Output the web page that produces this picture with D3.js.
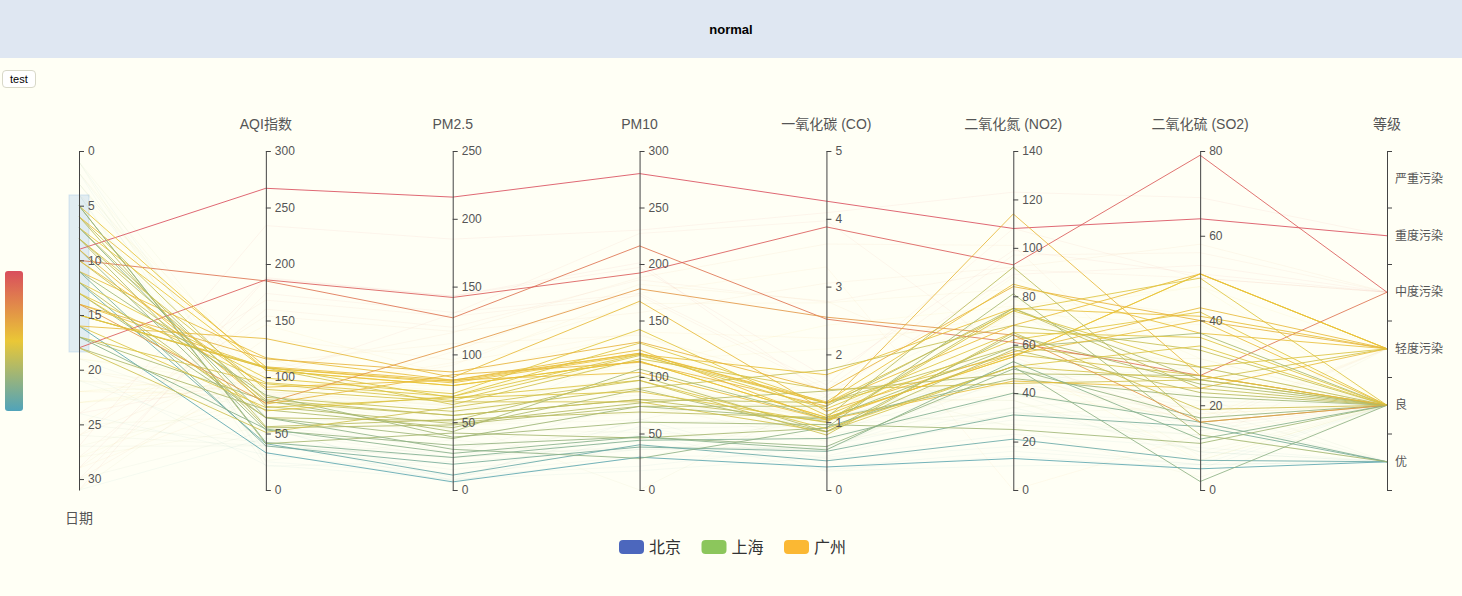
<!DOCTYPE html>
<html>
<head>
<meta charset="utf-8">
<script src="https://cdn.jsdelivr.net/npm/d3@7"></script>
<style>
  body { margin: 0; background: #fffff5; font-family: "Liberation Sans", "Noto Sans CJK SC", sans-serif; }
  #banner { height: 58px; background: #dfe7f2; text-align: center; line-height: 60px; font-weight: bold; font-size: 13px; color: #000; }
  #test { position: absolute; left: 2px; top: 70px; height: 18px; padding: 0 7px; font-size: 11px; background: #fff; border: 1px solid #d8d8c8; border-radius: 4px; font-family: inherit; }
  #chart { position: absolute; left: 0; top: 0; }
</style>
</head>
<body>
<div id="banner">normal</div>
<button id="test">test</button>
<svg id="chart" width="1462" height="596"></svg>
<script>
// [日期, AQI, PM2.5, PM10, CO, NO2, SO2, 等级]
const dataBJ = [
  [1,55,9,56,0.46,18,6,"良"],[2,25,11,21,0.65,34,9,"优"],[3,56,7,63,0.3,14,5,"良"],
  [4,33,7,29,0.33,16,6,"优"],[5,42,24,44,0.76,40,16,"优"],[6,82,58,90,1.77,68,33,"良"],
  [7,74,49,77,1.46,48,27,"良"],[8,78,55,80,1.29,59,29,"良"],[9,267,216,280,4.26,108,64,"重度污染"],
  [10,185,127,216,2.52,61,27,"中度污染"],[11,39,19,38,0.57,31,15,"优"],[12,41,11,40,0.43,21,7,"优"],
  [13,64,38,74,1.04,46,22,"良"],[14,108,79,120,1.7,75,41,"轻度污染"],[15,108,63,116,1.48,44,26,"轻度污染"],
  [16,33,6,29,0.34,13,5,"优"],[17,94,66,119,1.28,56,27,"良"],[18,186,142,192,3.88,93,79,"中度污染"],
  [19,57,31,54,0.96,32,14,"良"],[20,22,8,17,0.48,23,10,"优"],[21,39,15,36,0.61,29,13,"优"],
  [22,94,69,114,2.08,73,39,"良"],[23,99,73,110,2.43,76,48,"良"],[24,31,12,30,0.5,32,16,"优"],
  [25,42,27,43,1,53,22,"优"],[26,154,117,157,3.05,92,58,"中度污染"],[27,234,185,230,4.09,123,69,"重度污染"],
  [28,160,120,186,2.77,91,50,"中度污染"],[29,134,96,165,2.76,83,41,"轻度污染"],[30,52,24,60,1.03,50,21,"良"],
  [31,46,5,49,0.28,10,6,"优"]
];
const dataSH = [
  [1,91,45,125,0.82,34,23,"良"],[2,65,27,78,0.86,45,29,"良"],[3,83,60,84,1.09,73,27,"良"],
  [4,109,81,121,1.28,68,51,"轻度污染"],[5,106,77,114,1.07,55,51,"轻度污染"],[6,109,81,121,1.28,68,51,"轻度污染"],
  [7,106,77,114,1.07,55,51,"轻度污染"],[8,89,65,78,0.86,51,26,"良"],[9,53,33,47,0.64,50,17,"良"],
  [10,80,55,80,1.01,75,24,"良"],[11,117,81,124,1.03,45,24,"轻度污染"],[12,99,71,142,1.1,62,42,"良"],
  [13,95,69,130,1.28,74,50,"良"],[14,116,87,131,1.47,84,40,"轻度污染"],[15,108,80,121,1.3,85,37,"轻度污染"],
  [16,134,83,167,1.16,57,43,"轻度污染"],[17,79,43,107,1.05,59,37,"良"],[18,71,46,89,0.86,64,25,"良"],
  [19,97,71,113,1.17,88,31,"良"],[20,84,57,91,0.85,55,31,"良"],[21,87,63,101,0.9,56,41,"良"],
  [22,104,77,119,1.09,73,48,"轻度污染"],[23,87,62,100,1,72,28,"良"],[24,168,128,172,1.49,97,56,"中度污染"],
  [25,65,45,51,0.74,39,17,"良"],[26,39,24,38,0.61,47,17,"优"],[27,39,24,39,0.59,50,19,"优"],
  [28,93,68,96,1.05,79,29,"良"],[29,188,143,197,1.66,99,51,"中度污染"],[30,174,131,174,1.55,108,50,"中度污染"],
  [31,187,143,201,1.39,89,53,"中度污染"]
];
const dataGZ = [
  [1,26,37,27,1.163,27,13,"优"],[2,85,62,71,1.195,60,8,"良"],[3,78,38,74,1.363,37,7,"良"],
  [4,21,21,36,0.634,40,9,"优"],[5,41,42,46,0.915,81,13,"优"],[6,56,52,69,1.067,92,16,"良"],
  [7,64,30,28,0.924,51,2,"良"],[8,55,48,74,1.236,75,26,"良"],[9,76,85,113,1.237,114,27,"良"],
  [10,91,81,104,1.041,56,40,"良"],[11,84,39,60,0.964,25,11,"良"],[12,64,51,101,0.862,58,23,"良"],
  [13,70,69,120,1.198,65,36,"良"],[14,77,105,178,2.549,64,16,"良"],[15,109,68,87,0.996,74,29,"轻度污染"],
  [16,73,68,97,0.905,51,34,"良"],[17,54,27,47,0.592,53,12,"良"],[18,51,61,97,0.811,65,19,"良"],
  [19,91,71,121,1.374,43,18,"良"],[20,73,102,182,2.787,44,19,"良"],[21,73,50,76,0.717,31,20,"良"],
  [22,84,94,140,2.238,68,18,"良"],[23,93,77,104,1.165,53,7,"良"],[24,99,130,227,3.97,55,15,"良"],
  [25,146,84,139,1.094,40,17,"轻度污染"],[26,113,108,137,1.481,48,15,"轻度污染"],[27,81,48,62,1.619,26,3,"良"],
  [28,56,48,68,1.336,37,9,"良"],[29,82,92,174,3.29,0,13,"良"],[30,106,116,188,3.628,101,16,"轻度污染"],
  [31,118,50,0,1.383,76,11,"轻度污染"]
];

const seriesNames = ["北京", "上海", "广州"];
const seriesColors = ["#4c67bd", "#8cc65c", "#fbb833"];
const axisNames = ["日期", "AQI指数", "PM2.5", "PM10", "一氧化碳 (CO)", "二氧化氮 (NO2)", "二氧化硫 (SO2)", "等级"];
const axisMax = [31, 300, 250, 300, 5, 140, 80];
const tickSteps = [5, 50, 50, 50, 1, 20, 20];
const grades = ["优", "良", "轻度污染", "中度污染", "重度污染", "严重污染"];
const brushRange = [4.02, 18.38];        // active interval on 日期
const visualRange = [0, 150];            // visualMap on PM2.5
const visualColors = ["#50a3ba", "#eac736", "#d94e5d"];

const svg = d3.select("#chart");
const yTop = 151, yBottom = 490;

const x = d3.scalePoint().domain(d3.range(axisNames.length)).range([79, 1387]);

const yScales = axisMax.map((m, i) =>
  i === 0 ? d3.scaleLinear().domain([0, m]).range([yTop, yBottom])
          : d3.scaleLinear().domain([0, m]).range([yBottom, yTop]));
const yGrade = d3.scaleBand().domain(grades).range([yBottom, yTop]);
const yGradeTicks = d3.scaleLinear().domain([0, grades.length]).range([yBottom, yTop]);

const color = d3.scaleLinear()
  .domain([visualRange[0], (visualRange[0] + visualRange[1]) / 2, visualRange[1]])
  .range(visualColors)
  .clamp(true);

function yOf(dim, v) {
  return dim === 7 ? yGrade(v) + yGrade.bandwidth() / 2 : yScales[dim](v);
}
const line = d3.line();
function pathOf(row) {
  return line(row.map((v, dim) => [x(dim), yOf(dim, v)]));
}
const isActive = row => row[0] >= brushRange[0] && row[0] <= brushRange[1];

// brush area on 日期 axis
svg.append("rect")
  .attr("x", x(0) - 10).attr("width", 20)
  .attr("y", yScales[0](brushRange[0]))
  .attr("height", yScales[0](brushRange[1]) - yScales[0](brushRange[0]))
  .attr("fill", "rgba(160,197,232,0.3)")
  .attr("stroke", "rgba(160,197,232,0.4)");

// lines
const lines = svg.append("g").attr("fill", "none");
[dataBJ, dataSH, dataGZ].forEach(data => {
  lines.append("g").selectAll("path")
    .data(data)
    .join("path")
    .attr("d", pathOf)
    .attr("stroke", d => color(d[2]))
    .attr("stroke-width", 1)
    .attr("stroke-opacity", d => isActive(d) ? 0.85 : 0.06);
});

// axes
const axisColor = "#444", labelColor = "#555";
function styleAxis(g) {
  g.select(".domain").attr("stroke", axisColor);
  g.selectAll(".tick line").attr("stroke", axisColor);
  g.selectAll(".tick text").attr("fill", labelColor).attr("font-size", 12)
    .attr("font-family", "'Liberation Sans', 'Noto Sans CJK SC', sans-serif");
}
axisMax.forEach((m, i) => {
  const g = svg.append("g").attr("transform", `translate(${x(i)},0)`)
    .call(d3.axisRight(yScales[i]).tickValues(d3.range(0, m + 0.001, tickSteps[i]))
      .tickFormat(d3.format("~g"))
      .tickSize(5).tickSizeOuter(0).tickPadding(4));
  styleAxis(g);
});
const gGrade = svg.append("g").attr("transform", `translate(${x(7)},0)`)
  .call(d3.axisRight(yGradeTicks).ticks(grades.length).tickSize(5).tickSizeOuter(0).tickFormat(""));
styleAxis(gGrade);
const gGradeLabels = svg.append("g").attr("transform", `translate(${x(7)},0)`)
  .call(d3.axisRight(yGrade).tickSize(0).tickPadding(8));
gGradeLabels.select(".domain").remove();
styleAxis(gGradeLabels);

// axis names
svg.append("g").selectAll("text")
  .data(axisNames)
  .join("text")
  .attr("x", (d, i) => x(i))
  .attr("y", (d, i) => i === 0 ? yBottom + 33 : yTop - 22)
  .attr("text-anchor", "middle")
  .attr("font-size", 14)
  .attr("fill", labelColor)
  .text(d => d);

// visual map bar
const grad = svg.append("defs").append("linearGradient")
  .attr("id", "vm").attr("x1", 0).attr("y1", 1).attr("x2", 0).attr("y2", 0);
grad.selectAll("stop")
  .data(visualColors)
  .join("stop")
  .attr("offset", (d, i) => i / (visualColors.length - 1))
  .attr("stop-color", d => d);
svg.append("rect")
  .attr("x", 5).attr("y", 271).attr("width", 18).attr("height", 140).attr("rx", 3)
  .attr("fill", "url(#vm)");

// legend
const legend = svg.append("g").attr("transform", "translate(619,540)");
const item = legend.selectAll("g")
  .data(seriesNames)
  .join("g")
  .attr("transform", (d, i) => `translate(${i * 82.5},0)`);
item.append("rect")
  .attr("width", 25).attr("height", 14).attr("rx", 4)
  .attr("fill", (d, i) => seriesColors[i]);
item.append("text")
  .attr("x", 30).attr("y", 7).attr("dy", "0.36em")
  .attr("font-size", 16).attr("fill", "#333")
  .text(d => d);
</script>
</body>
</html>
